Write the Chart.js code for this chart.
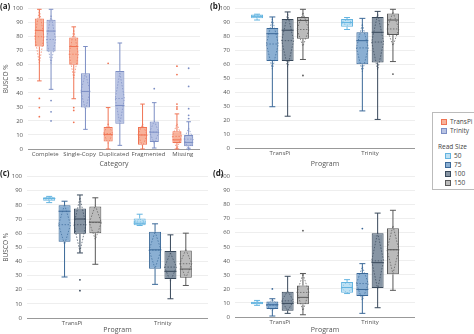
<!DOCTYPE html>
<html>
<head>
<meta charset="utf-8">
<script src="https://cdn.jsdelivr.net/npm/chart.js@4.4.1/dist/chart.umd.min.js"></script>
<style>
  body { margin: 0; background: #fff; font-family: "Open Sans", sans-serif; }
  #wrap { position: relative; width: 474px; height: 334px; overflow: hidden; }
  .pane { position: absolute; }
  .tag { position: absolute; font-size: 8px; font-weight: bold; color: #222; }
  #legend { position: absolute; left: 432px; top: 112px; width: 50px; height: 76px;
            border: 1px solid #bbb; font-size: 6.5px; color: #444; }
  #legend div { position: absolute; white-space: nowrap; }
  #legend span { display: inline-block; width: 4px; height: 4px; margin-right: 3px;
                 vertical-align: -0.5px; border: 1px solid; }
</style>
</head>
<body>
<div id="wrap">
  <div class="pane" style="left:0;top:0;width:205px;height:168px"><canvas id="chartA"></canvas></div>
  <div class="pane" style="left:205px;top:0;width:215px;height:168px"><canvas id="chartB"></canvas></div>
  <div class="pane" style="left:0;top:168px;width:212px;height:166px"><canvas id="chartC"></canvas></div>
  <div class="pane" style="left:212px;top:168px;width:210px;height:166px"><canvas id="chartD"></canvas></div>
  <div class="tag" style="left:0;top:0">(a)</div>
  <div class="tag" style="left:210px;top:0">(b)</div>
  <div class="tag" style="left:0;top:167px">(c)</div>
  <div class="tag" style="left:213px;top:167px">(d)</div>
  <div id="legend"></div>
</div>
<script>
// 数据: 每个箱线 [最小, Q1, 中位数, Q3, 最大], 均值与标准差 [mean, sd], 离群点
const categories = ['Complete', 'Single-Copy', 'Duplicated', 'Fragmented', 'Missing'];
const programs = ['TransPi', 'Trinity'];
const readSizes = ['50', '75', '100', '150'];

// (a) 各类别
const aTranspiBox = [[48.5, 73, 84.5, 93, 99.5], [35.8, 60, 73, 79.5, 87], [0, 5.4, 10.3, 15.6, 29.5], [0, 3, 10, 15.6, 32], [0, 4.2, 6.5, 12.6, 25]];
const aTranspiMeanSd = [[80, 19], [67.5, 17], [11, 7], [10, 8], [9, 9]];
const aTranspiOut = [[36, 29.5, 23], [29.5, 27.5, 19], [61], [], [59, 53, 32, 30, 28.5]];
const aTrinityBox = [[42.5, 69.5, 84, 92, 99.5], [14, 29.5, 41, 54, 73], [2.6, 18, 31, 55.6, 75.5], [0.7, 5, 12, 19.6, 33], [0, 1.9, 4.7, 10, 19.4]];
const aTrinityMeanSd = [[78, 17], [41, 13], [36, 18], [12, 8], [7, 8]];
const aTrinityOut = [[34.5, 26.5, 20], [], [], [43], [57.5, 44.6, 28.7, 24, 21.7]];

// (b) 按读长
const bBox50 = [[91.8, 93, 94.5, 95.8, 96], [85, 87, 90, 92.5, 93.6]];
const bBox75 = [[29.6, 62.4, 82, 86, 94], [26.6, 60, 77, 83, 93]];
const bBox100 = [[22.8, 62.4, 84.5, 92.5, 97.6], [20.5, 61.4, 83, 94, 98]];
const bBox150 = [[63.5, 78.4, 91.5, 94, 99.5], [62, 81, 91.8, 96.5, 99.5]];
const bMeanSd50 = [[94.5, 1], [90, 2]];
const bMeanSd75 = [[74.6, 18], [71.8, 17]];
const bMeanSd100 = [[77, 19], [76, 20]];
const bMeanSd150 = [[85, 12], [85.4, 12]];
const bOut150 = [[52], [53]];

// (c)
const cBox50 = [[81.6, 83, 84.5, 85.4, 86], [65.4, 65.6, 67, 70.4, 73.4]];
const cBox75 = [[29, 53.9, 75.5, 79.8, 82.6], [23.8, 34.8, 48.2, 61, 66.6]];
const cBox100 = [[46, 59.5, 70, 77.4, 87], [13.6, 27.5, 33, 47.3, 58.8]];
const cBox150 = [[38, 60, 67.8, 78.8, 85], [23, 28.5, 34.6, 47.8, 60]];
const cMeanSd50 = [[84.5, 1], [68, 2]];
const cMeanSd75 = [[66, 14], [48, 13]];
const cMeanSd100 = [[66, 19], [36, 10]];
const cMeanSd150 = [[67.5, 12], [38.4, 10]];
const cOut100 = [[27, 19.3], []];

// (d)
const dBox50 = [[8.3, 9, 10, 10.8, 11.8], [16.7, 17.2, 21, 25, 26.6]];
const dBox75 = [[0.7, 5.7, 8.7, 11, 13], [2.6, 15, 19.6, 31.4, 38]];
const dBox100 = [[2.6, 4.5, 9.7, 18, 29], [6.6, 20.7, 38.7, 59.7, 74]];
const dBox150 = [[1.6, 9, 14, 22.4, 31], [19, 30.4, 47.9, 63.2, 76]];
const dMeanSd50 = [[10, 1], [21, 4]];
const dMeanSd75 = [[8.5, 4], [23.8, 12]];
const dMeanSd100 = [[11.5, 7], [40, 20]];
const dMeanSd150 = [[17.5, 13], [47.9, 17]];
const dOut75 = [[20], [63]];
const dOut150 = [[61.5], []];

// 颜色
const programColors = {
    TransPi: { fill: 'rgba(247, 165, 136, 0.85)', line: 'rgb(240, 116, 84)' },
    Trinity: { fill: 'rgba(172, 184, 222, 0.85)', line: 'rgb(124, 142, 196)' }
};
const sizeColors = {
    '50': { fill: 'rgba(183, 222, 243, 0.9)', line: 'rgb(100, 180, 224)' },
    '75': { fill: 'rgba(125, 166, 206, 0.9)', line: 'rgb(58, 104, 152)' },
    '100': { fill: 'rgba(122, 138, 154, 0.9)', line: 'rgb(56, 72, 90)' },
    '150': { fill: 'rgba(180, 180, 180, 0.9)', line: 'rgb(88, 88, 88)' }
};

// 在浮动柱上补画须、中位数、均值菱形和离群点
const boxPlugin = {
    id: 'boxExtras',
    afterDatasetsDraw(chart) {
        const ctx = chart.ctx;
        const ys = chart.scales.y;
        const py = v => ys.getPixelForValue(v);
        const seg = (x1, y1, x2, y2) => { ctx.beginPath(); ctx.moveTo(x1, y1); ctx.lineTo(x2, y2); ctx.stroke(); };
        chart.data.datasets.forEach((ds, i) => {
            const meta = chart.getDatasetMeta(i);
            meta.data.forEach((bar, j) => {
                const s = ds.stats[j];
                if (!s) return;
                const [mn, q1, md, q3, mx] = s;
                const [mean, sd] = ds.meanSd[j];
                const x = bar.x, hw = bar.width / 2;
                ctx.save();
                ctx.strokeStyle = ds.borderColor;
                ctx.fillStyle = ds.borderColor;
                ctx.lineWidth = 1;
                seg(x, py(q3), x, py(mx));
                seg(x, py(q1), x, py(mn));
                seg(x - hw / 2, py(mx), x + hw / 2, py(mx));
                seg(x - hw / 2, py(mn), x + hw / 2, py(mn));
                seg(x - hw, py(md), x + hw, py(md));
                // 均值 ± 标准差, 虚线
                ctx.lineWidth = 0.7;
                ctx.setLineDash([1.5, 1.5]);
                seg(x - hw, py(mean), x + hw, py(mean));
                ctx.beginPath();
                ctx.moveTo(x, py(mean + sd));
                ctx.lineTo(x + hw, py(mean));
                ctx.lineTo(x, py(mean - sd));
                ctx.lineTo(x - hw, py(mean));
                ctx.closePath();
                ctx.stroke();
                ctx.setLineDash([]);
                (ds.outliers[j] || []).forEach(v => {
                    ctx.beginPath();
                    ctx.arc(x, py(v), 0.9, 0, Math.PI * 2);
                    ctx.fill();
                });
                ctx.restore();
            });
        });
    }
};

function boxDataset(label, boxes, meanSd, outliers, color) {
    return {
        label: label,
        data: boxes.map(b => [b[1], b[3]]),
        stats: boxes,
        meanSd: meanSd,
        outliers: outliers,
        backgroundColor: color.fill,
        borderColor: color.line,
        borderWidth: 1,
        borderSkipped: false,
        categoryPercentage: 0.68,
        barPercentage: 0.78
    };
}

function createBoxChart(canvasId, labels, datasets, xTitle, showYTitle, yWidth, xHeight, padRight) {
    const ctx = document.getElementById(canvasId).getContext('2d');
    return new Chart(ctx, {
        type: 'bar',
        data: { labels: labels, datasets: datasets },
        plugins: [boxPlugin],
        options: {
            responsive: true,
            maintainAspectRatio: false,
            animation: false,
            layout: { padding: { left: 0, right: padRight, top: 8, bottom: 0 } },
            plugins: { legend: { display: false }, tooltip: { enabled: false } },
            scales: {
                x: {
                    grid: { display: false, drawTicks: false },
                    border: { display: false },
                    ticks: { font: { family: 'Open Sans', size: 6 }, color: '#555', padding: 2, maxRotation: 0, autoSkip: false },
                    title: { display: true, text: xTitle, font: { family: 'Open Sans', size: 7 }, color: '#555', padding: 0 },
                    afterFit(s) { s.height = xHeight; }
                },
                y: {
                    min: 0,
                    max: 100,
                    border: { display: false },
                    grid: {
                        color: c => c.tick.value === 0 ? '#999' : '#eeeeee',
                        drawTicks: false
                    },
                    ticks: { stepSize: 10, font: { family: 'Open Sans', size: 6 }, color: '#555', padding: 5 },
                    title: { display: showYTitle, text: 'BUSCO %', font: { family: 'Open Sans', size: 6.5 }, color: '#555', padding: 2 },
                    afterFit(s) { s.width = yWidth; }
                }
            }
        }
    });
}

function sizeDatasets(boxes, meanSds, outs) {
    return readSizes.map((r, k) => boxDataset(r, boxes[k], meanSds[k], outs[k], sizeColors[r]));
}

createBoxChart('chartA', categories, [
    boxDataset('TransPi', aTranspiBox, aTranspiMeanSd, aTranspiOut, programColors.TransPi),
    boxDataset('Trinity', aTrinityBox, aTrinityMeanSd, aTrinityOut, programColors.Trinity)
], 'Category', true, 28, 19, 5);

createBoxChart('chartB', programs, sizeDatasets(
    [bBox50, bBox75, bBox100, bBox150],
    [bMeanSd50, bMeanSd75, bMeanSd100, bMeanSd150],
    [[[], []], [[], []], [[], []], bOut150]
), 'Program', false, 30, 20, 5);

createBoxChart('chartC', programs, sizeDatasets(
    [cBox50, cBox75, cBox100, cBox150],
    [cMeanSd50, cMeanSd75, cMeanSd100, cMeanSd150],
    [[[], []], [[], []], cOut100, [[], []]]
), 'Program', true, 27, 16, 4);

createBoxChart('chartD', programs, sizeDatasets(
    [dBox50, dBox75, dBox100, dBox150],
    [dMeanSd50, dMeanSd75, dMeanSd100, dMeanSd150],
    [[[], []], dOut75, [[], []], dOut150]
), 'Program', false, 23, 17, 7);

// 图例
const legend = document.getElementById('legend');
const items = [
    ['TransPi', programColors.TransPi, 8, 4],
    ['Trinity', programColors.Trinity, 8, 13],
    ['Read Size', null, 5, 29],
    ['50', sizeColors['50'], 12, 38],
    ['75', sizeColors['75'], 12, 47],
    ['100', sizeColors['100'], 12, 56],
    ['150', sizeColors['150'], 12, 65]
];
items.forEach(([text, color, left, top]) => {
    const d = document.createElement('div');
    d.style.left = left + 'px';
    d.style.top = top + 'px';
    if (color) {
        const sw = document.createElement('span');
        sw.style.background = color.fill;
        sw.style.borderColor = color.line;
        d.appendChild(sw);
    }
    d.appendChild(document.createTextNode(text));
    legend.appendChild(d);
});
</script>
</body>
</html>
